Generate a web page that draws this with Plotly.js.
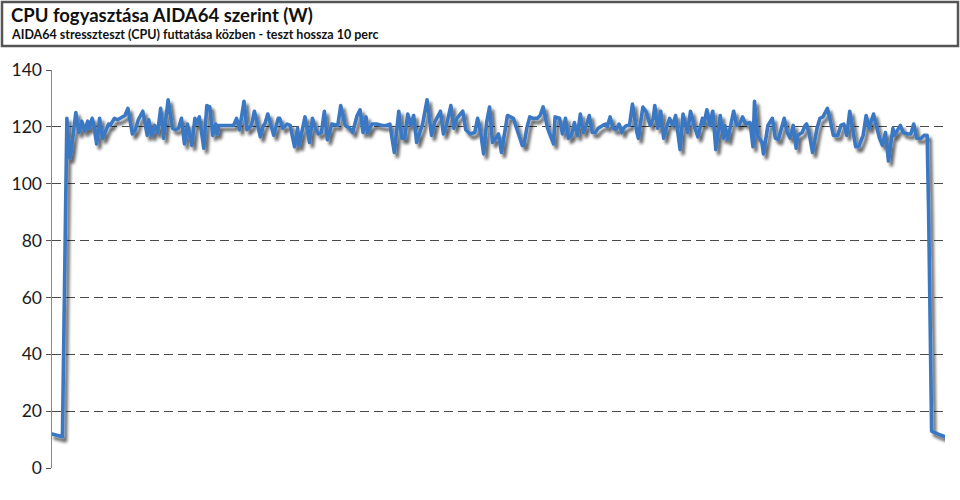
<!DOCTYPE html>
<html>
<head>
<meta charset="utf-8">
<script src="https://cdn.plot.ly/plotly-3.0.1.min.js"></script>
<style>
html,body{margin:0;padding:0;background:#fff;}
#chart{width:960px;height:500px;}
</style>
</head>
<body>
<div id="chart"></div>
<script>
// Time in seconds (10 minute test) and CPU power in W
const timeSec = [0,7,10,12,13,15,16,18,20,22,24,25,27,28,30,32,34,36,38,39,42,44,47,49,51,54,56,58,61,64,65,67,69,71,73,75,78,81,83,85,87,89,91,94,96,97,99,102,104,106,108,110,111,112,115,118,122,124,126,129,131,134,136,140,142,143,145,149,152,153,155,158,160,163,165,166,170,173,175,177,179,181,183,185,188,192,194,197,200,202,205,207,209,211,212,215,218,222,225,227,230,233,235,237,239,241,243,245,249,252,255,257,259,261,263,265,268,270,272,276,278,281,284,286,288,290,292,294,296,300,302,306,310,312,316,317,319,321,323,326,328,330,333,337,338,341,343,345,347,349,351,353,355,357,359,361,363,365,367,370,372,373,375,377,379,381,383,384,386,388,390,393,394,397,399,402,404,405,407,409,411,413,415,417,419,422,424,427,429,432,434,437,438,440,442,444,446,449,451,452,454,458,460,462,464,466,469,471,472,474,477,478,481,484,486,488,491,492,494,496,498,500,501,504,506,507,509,511,514,516,518,521,523,525,528,530,532,534,536,538,540,542,545,547,549,552,554,556,558,560,562,565,566,570,572,575,577,579,581,584,586,588,589,591,595,600];
const powerW = [12,11,123,109,112,120,125,118,122,118.5,122,119.5,123,121,114,123,116,118.5,121,120.5,123,122.5,123.5,124,126.5,117.5,119,122.5,125.5,117,122.5,117,120.5,118,126.5,116,129.5,119.5,119,119.5,123,114,121,113.5,123,121,123.5,112.5,127.5,127,117,121,117.5,120.5,120.5,120.5,120.5,123,119,129,119,120.5,125.5,116.5,120.5,121,124.5,117,123,123,119.5,121,120.5,113,119.5,113.5,123.5,114.5,123,119.5,117.5,118,125.5,115.5,121,120.5,127.5,120.5,119.5,118,124,126,118,123.5,118,121,121,120.5,120.5,121,111,125.5,116,116,124.5,120.5,124,114.5,121,129.5,117,121.5,123.5,125.5,117.5,120.5,127.5,119.5,123,125.5,119,117.5,118,123,118,110.5,121.5,127,114.5,117.5,111,124,123,119.5,113.5,113.5,119.5,123.5,123,123,124,127,119.5,114,123.5,123,117.5,123,116,117,121.5,117,124.5,118,120.5,124,118,118,119.5,120.5,121,120,123.5,119.5,119,121,118,119.5,120.5,120.5,128,118,116,127,125.5,120.5,123,127.5,119.5,125.5,116,120,123,120.5,124,112,124.5,118,125.5,119.5,116.5,123,121,126,120.5,125.5,112,124,116,120.5,115.5,125.5,120.5,121,123.5,121,121.5,113,129,117,114.5,110.5,120.5,123,116,115.5,121,123,118,116,120.5,112.5,117,118,120.5,121,117,111,119.5,123,123.5,126.5,122,117,117,120.5,121,117,125.5,119.5,113,113,117,124,119.5,124.5,120.5,116,113.5,118,108,119.5,117,120.5,118,117.5,117.5,121,116,116,117,117,90,13,12,11];
const yTicks = [0,20,40,60,80,100,120,140];

const titleText = 'CPU fogyasztása AIDA64 szerint (W)';
const subtitleText = 'AIDA64 stresszteszt (CPU) futtatása közben - teszt hossza 10 perc';

const trace = {
  x: timeSec,
  y: powerW,
  type: 'scatter',
  mode: 'lines',
  line: {color: '#3a78c3', width: 3.6},
  hoverinfo: 'skip'
};

const W = 893, H = 398; // plot area size
const px = v => (v - 52) / W;
const py = v => 1 + (70 - v) / H;

const layout = {
  width: 960, height: 500,
  margin: {l: 52, r: 15, t: 70, b: 32, pad: 0},
  paper_bgcolor: '#ffffff',
  plot_bgcolor: '#ffffff',
  showlegend: false,
  font: {family: 'Lato, "Open Sans", sans-serif', color: '#222'},
  xaxis: {
    range: [0, 600],
    visible: true,
    showgrid: false,
    zeroline: false,
    showline: false,
    showticklabels: false,
    ticks: '',
    fixedrange: true
  },
  yaxis: {
    range: [0, 140],
    tickvals: yTicks,
    ticktext: yTicks.map(String),
    ticks: 'outside',
    ticklen: 5,
    tickwidth: 1,
    tickcolor: '#555',
    tickfont: {size: 17.5, color: '#1a1a1a', family: 'Lato, "Open Sans", sans-serif'},
    showgrid: true,
    gridcolor: '#4a4a4a',
    gridwidth: 1,
    griddash: '9px,5px',
    zeroline: false,
    showline: true,
    linecolor: '#888',
    linewidth: 1.5,
    fixedrange: true
  },
  shapes: [{
    type: 'rect', xref: 'paper', yref: 'paper',
    x0: px(2), x1: px(958), y0: py(46), y1: py(2),
    line: {color: '#555', width: 2.5},
    fillcolor: 'rgba(0,0,0,0)', layer: 'above'
  }],
  annotations: [
    {
      xref: 'paper', yref: 'paper', x: px(9), y: py(28),
      xanchor: 'left', yanchor: 'bottom', showarrow: false,
      text: '<b>' + titleText + '</b>',
      font: {size: 18.5, color: '#111', family: 'Lato, "Open Sans", sans-serif'}
    },
    {
      xref: 'paper', yref: 'paper', x: px(9), y: py(44),
      xanchor: 'left', yanchor: 'bottom', showarrow: false,
      text: '<b>' + subtitleText + '</b>',
      font: {size: 12.5, color: '#111', family: 'Lato, "Open Sans", sans-serif'}
    }
  ]
};

Plotly.newPlot('chart', [trace], layout, {displayModeBar: false, staticPlot: true}).then(function(gd){
  const svg = gd.querySelector('svg.main-svg');
  const ns = 'http://www.w3.org/2000/svg';
  let defs = svg.querySelector('defs');
  if (!defs) { defs = document.createElementNS(ns, 'defs'); svg.insertBefore(defs, svg.firstChild); }
  const f = document.createElementNS(ns, 'filter');
  f.setAttribute('id', 'lineShadow');
  f.setAttribute('x', '-5%'); f.setAttribute('y', '-5%');
  f.setAttribute('width', '110%'); f.setAttribute('height', '120%');
  f.innerHTML = '<feGaussianBlur in="SourceAlpha" stdDeviation="1.6" result="b"/>' +
    '<feOffset in="b" dx="2.5" dy="3.5" result="o"/>' +
    '<feComponentTransfer in="o" result="s"><feFuncA type="linear" slope="0.6"/></feComponentTransfer>' +
    '<feMerge><feMergeNode in="s"/><feMergeNode in="SourceGraphic"/></feMerge>';
  defs.appendChild(f);
  gd.querySelectorAll('.scatterlayer .js-line').forEach(function(p){
    p.setAttribute('filter', 'url(#lineShadow)');
    p.style.strokeLinejoin = 'round';
    p.style.strokeLinecap = 'round';
  });
});
</script>
</body>
</html>
